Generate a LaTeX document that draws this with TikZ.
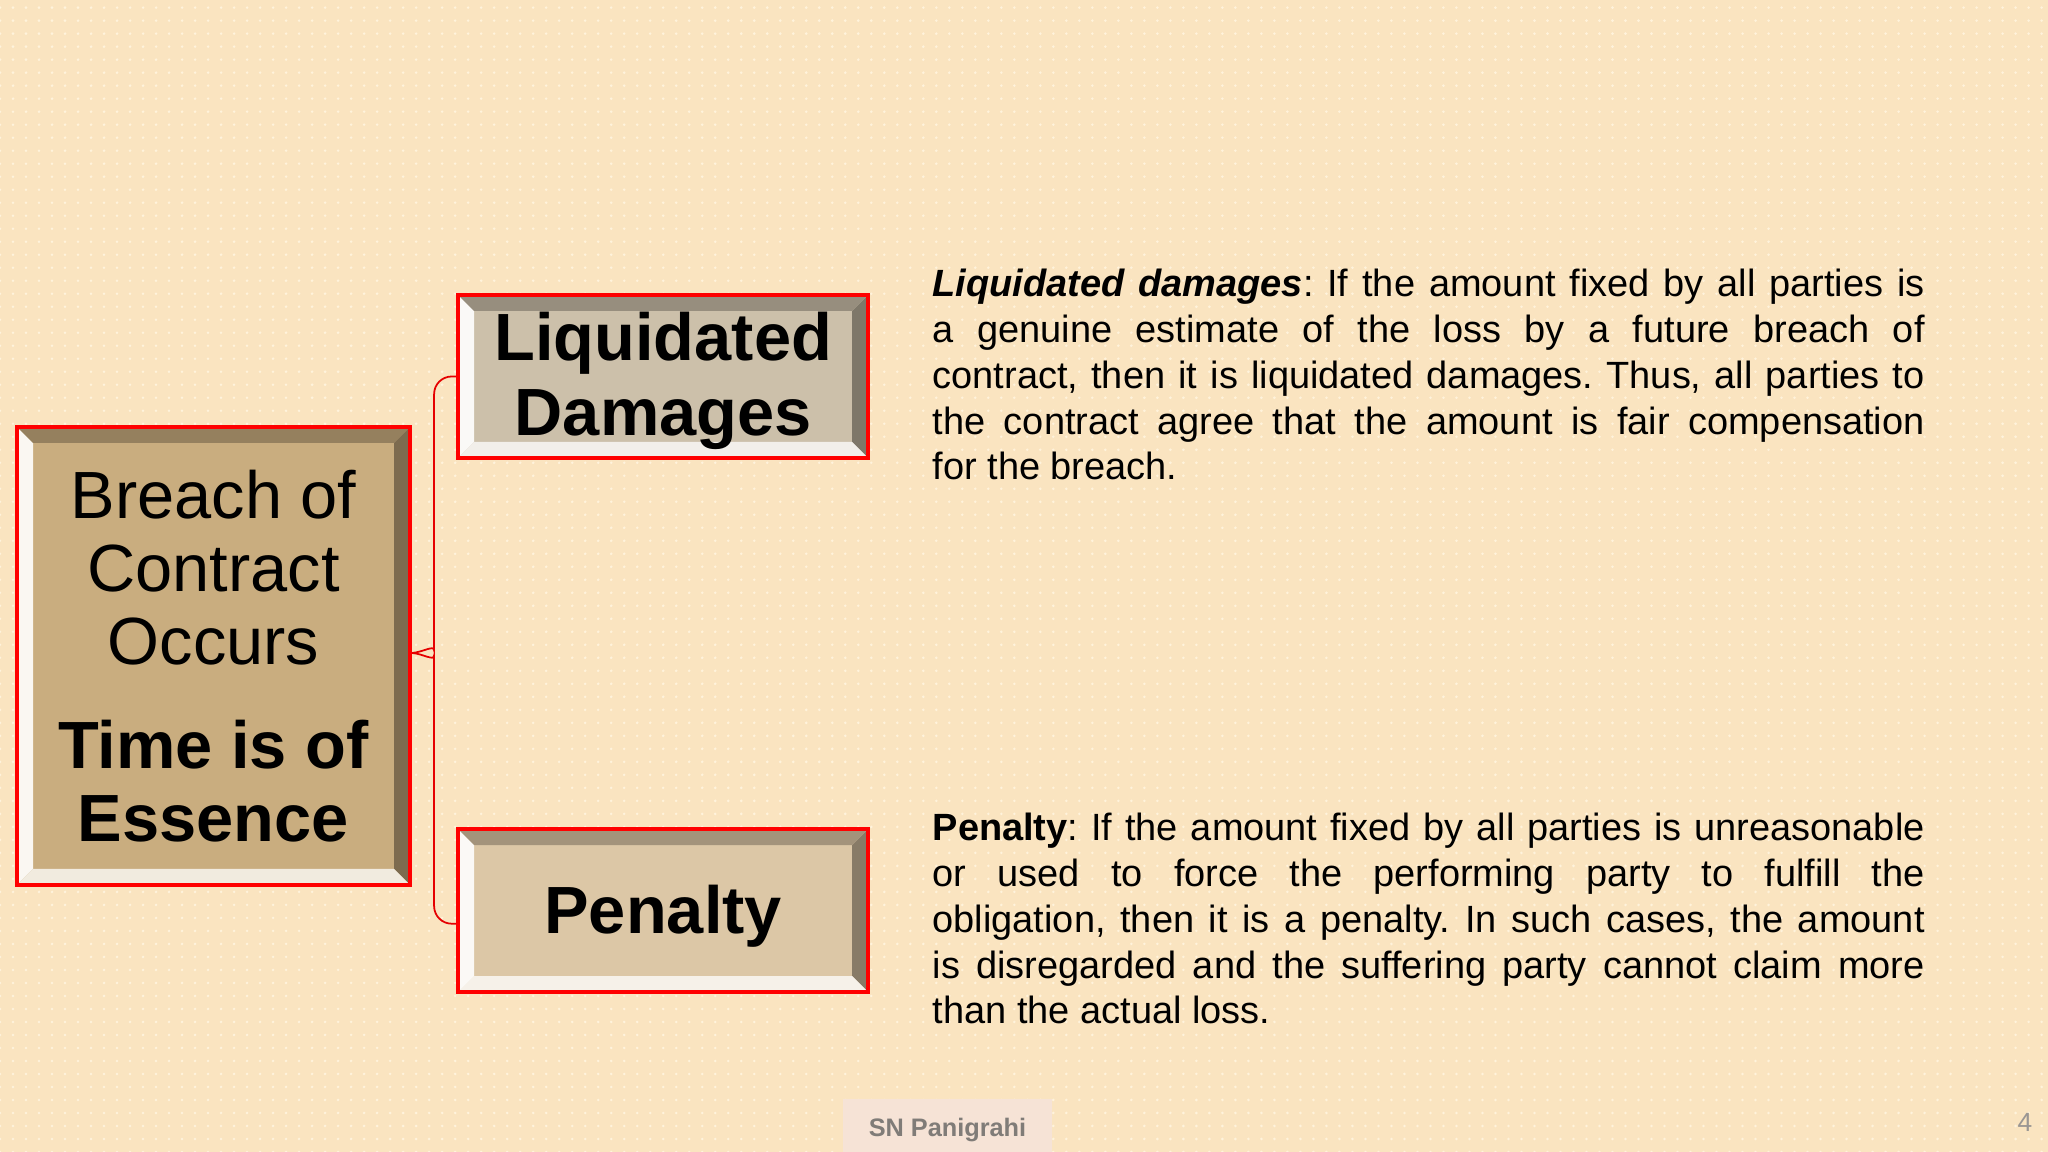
\documentclass[tikz,border=0pt]{standalone}
\usepackage{fontspec}
\setmainfont{Liberation Sans}
\usetikzlibrary{positioning, patterns.meta}
\definecolor{paper}{RGB}{250,228,192}
\definecolor{speck}{RGB}{255,243,220}
\definecolor{tanface}{RGB}{201,173,127}
\definecolor{greyface}{RGB}{204,192,170}
\definecolor{sandface}{RGB}{220,199,166}
\definecolor{footfill}{RGB}{246,227,214}
\definecolor{footgrey}{RGB}{128,124,120}
\newcommand{\bev}{0.16cm}

\begin{document}
\begin{tikzpicture}
\tikzset{bevel/.style={rectangle, align=center, inner sep=0pt, fill=#1, draw=red, line width=1.2pt,
		path picture={
			\coordinate (bnw) at (path picture bounding box.north west);
			\coordinate (bne) at (path picture bounding box.north east);
			\coordinate (bsw) at (path picture bounding box.south west);
			\coordinate (bse) at (path picture bounding box.south east);
			\fill[#1!10!white] (bnw) -- ([shift={(\bev,-\bev)}]bnw) -- ([shift={(\bev,\bev)}]bsw) -- (bsw) -- cycle;
			\fill[#1!62!black] (bne) -- ([shift={(-\bev,-\bev)}]bne) -- ([shift={(-\bev,\bev)}]bse) -- (bse) -- cycle;
			\fill[#1!74!black] (bnw) -- (bne) -- ([shift={(-\bev,-\bev)}]bne) -- ([shift={(\bev,-\bev)}]bnw) -- cycle;
			\fill[#1!25!white] (bsw) -- (bse) -- ([shift={(-\bev,\bev)}]bse) -- ([shift={(\bev,\bev)}]bsw) -- cycle;
		}},
	link/.style={draw=red!90!black, line width=0.5pt, rounded corners=5pt},
	para/.style={anchor=base west, inner sep=0pt, text width=9.92cm, align=justify, font=\fontsize{10.8}{13}\selectfont\frenchspacing}}
\fill[paper] (0,0) rectangle (20.48,11.52);
\fill[pattern={Dots[distance=3.7pt,radius=0.4pt]}, pattern color=speck] (0,0) rectangle (20.48,11.52);
\useasboundingbox (0,0) rectangle (20.48,11.52);
\node[bevel=tanface, minimum width=3.93cm, minimum height=4.58cm, font=\fontsize{19}{20.8}\selectfont] (BCO) at (2.135,4.96) {Breach of\\Contract\\Occurs\\[8.7pt]\textbf{Time is of}\\\textbf{Essence}};
\node[bevel=greyface, minimum width=4.10cm, minimum height=1.63cm, font=\fontsize{19}{21.3}\selectfont\bfseries, text height=37.6pt, anchor=north west] (LD) at ([xshift=0.44cm, yshift=1.32cm]BCO.north east) {Liquidated\\Damages};
\node[bevel=sandface, minimum width=4.10cm, minimum height=1.63cm, font=\fontsize{19}{21.3}\selectfont\bfseries, text height=17pt, below=3.67cm of LD] (PEN) {Penalty};
\coordinate (fork) at ([yshift=0.03cm]BCO.east);
\draw[link] (fork) to[out=5,in=-90] ([xshift=0.22cm,yshift=0.2cm]fork) |- (LD.west);
\draw[link] (fork) to[out=-5,in=90] ([xshift=0.22cm,yshift=-0.2cm]fork) |- ([yshift=-0.13cm]PEN.west);
\node[para] (LDD) at (9.32,8.55) {\textbf{\textit{Liquidated damages}}: If the amount fixed by all parties is\linebreak a genuine estimate of the loss by a future breach of\linebreak contract, then it is liquidated damages. Thus, all parties to\linebreak the contract agree that the amount is fair compensation\linebreak for the breach.};
\node[para] (PND) at (9.32,3.11) {\textbf{Penalty}: If the amount fixed by all parties is unreasonable\linebreak or used to force the performing party to fulfill the\linebreak obligation, then it is a penalty. In such cases, the amount\linebreak is disregarded and the suffering party cannot claim more\linebreak than the actual loss.};
\node[fill=footfill, minimum width=2.09cm, minimum height=0.62cm, inner sep=0pt, text=footgrey, font=\fontsize{7.2}{8}\selectfont\bfseries] (SNP) at (9.475,0.22) {SN Panigrahi};
\node[text=footgrey!80, font=\fontsize{7.5}{8}\selectfont] (PG) at (20.25,0.30) {4};
\end{tikzpicture}
\end{document}
